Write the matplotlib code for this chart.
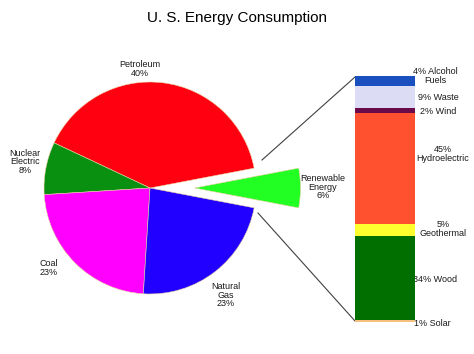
import matplotlib
matplotlib.use("Agg")
import matplotlib.pyplot as plt
import numpy as np

plt.rcParams['font.family'] = ['Liberation Sans', 'DejaVu Sans']

# pie data (order from the right, counter-clockwise)
pie_labels = ["Renewable\nEnergy\n6%", "Petroleum\n40%", "Nuclear\nElectric\n8%",
              "Coal\n23%", "Natural\nGas\n23%"]
pie_values = [6, 40, 8, 23, 23]
pie_colors = ["#22ff22", "#ff0010", "#0a9010", "#ff00ff", "#2200ff"]

# renewable breakdown (bottom to top)
ren_labels = ["1% Solar", "34% Wood", "5%\nGeothermal", "45%\nHydroelectric",
              "2% Wind", "9% Waste", "4% Alcohol\nFuels"]
ren_values = [1, 34, 5, 45, 2, 9, 4]
ren_colors = ["#f6c080", "#006f00", "#ffff30", "#ff5030", "#6a0a4a", "#dcdcf4", "#1a4fc0"]

W, H = 474, 354
fig = plt.figure(figsize=(W / 100, H / 100), dpi=100)


def px_axes(left, top, right, bottom):
    """Axes placed by pixel box (origin top-left)."""
    return fig.add_axes([left / W, 1 - bottom / H, (right - left) / W, (bottom - top) / H])


# background axes in pixel coords for text and connector lines
bg = px_axes(0, 0, W, H)
bg.set_xlim(0, W)
bg.set_ylim(H, 0)
bg.axis("off")

# pie
cx, cy, r = 150, 188, 106
pl, pt, pr, pb = 20, 60, 330, 320
ax_pie = px_axes(pl, pt, pr, pb)
ax_pie.pie(pie_values, colors=pie_colors, startangle=-10.8, counterclock=True,
           explode=[0.42, 0, 0, 0, 0], radius=1,
           wedgeprops=dict(edgecolor="#e8d0a0", linewidth=0.4))
ax_pie.set_aspect("auto")
ax_pie.set_xlim((pl - cx) / r, (pr - cx) / r)
ax_pie.set_ylim((cy - pb) / r, (cy - pt) / r)
ax_pie.axis("off")

# stacked bar
ax_bar = px_axes(355, 76, 415, 322)
bottoms = np.concatenate([[0], np.cumsum(ren_values)[:-1]])
ax_bar.bar([0] * len(ren_values), ren_values, bottom=bottoms, color=ren_colors,
           width=1, linewidth=0)
ax_bar.set_xlim(-0.5, 0.5)
ax_bar.set_ylim(0, sum(ren_values))
ax_bar.axis("off")

# connector lines
bg.plot([262, 355], [160, 77], color="#404040", lw=0.8)
bg.plot([258, 355], [213, 321], color="#404040", lw=0.8)

# title
bg.text(237, 18, "U. S. Energy Consumption", ha="center", va="center", fontsize=11)

# pie labels
pie_label_pos = [(323, 187), (140, 69), (25, 162), (49, 268), (226, 295)]
for lab, (x, y) in zip(pie_labels, pie_label_pos):
    bg.text(x, y, lab, ha="center", va="center", fontsize=6.5, linespacing=0.95,
            color="#1a1a1a")

# bar labels
ren_label_pos = [(432, 324), (435, 280), (443, 229), (443, 154), (438, 112),
                 (438, 97), (435, 76)]
for lab, (x, y) in zip(ren_labels, ren_label_pos):
    bg.text(x, y, lab, ha="center", va="center", fontsize=6.5, linespacing=0.95,
            color="#1a1a1a")

fig.savefig("out.png", dpi=100)
